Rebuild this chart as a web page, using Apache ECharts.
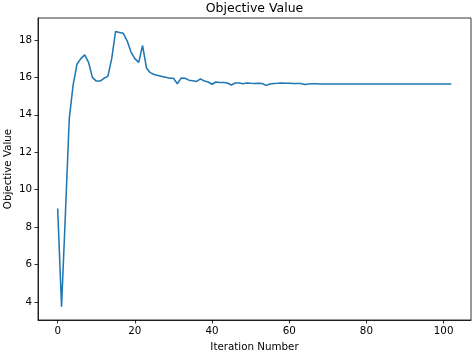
<!DOCTYPE html>
<html>
<head>
<meta charset="utf-8">
<script src="https://cdn.jsdelivr.net/npm/echarts@6/dist/echarts.min.js"></script>
<style>html,body{margin:0;padding:0;background:#fff}#c{width:474px;height:355px}</style>
</head>
<body>
<div id="c"></div>
<script>
var iterations = [];
var objectiveValues = [
  9.0, 3.75, 8.7, 13.8, 15.6, 16.7, 17.0, 17.2, 16.8, 16.0,
  15.8, 15.8, 15.95, 16.05, 17.0, 18.45, 18.4, 18.35, 17.95, 17.35,
  17.0, 16.8, 17.7, 16.5, 16.25, 16.15, 16.1, 16.05, 16.0, 15.95,
  15.95, 15.66, 15.96, 15.95, 15.85, 15.82, 15.78, 15.92, 15.8, 15.75,
  15.63, 15.75, 15.72, 15.72, 15.7, 15.59, 15.7, 15.7, 15.66, 15.7,
  15.68, 15.67, 15.68, 15.67, 15.57, 15.65, 15.67, 15.68, 15.7, 15.68,
  15.68, 15.67, 15.67, 15.67, 15.62, 15.65, 15.66, 15.66, 15.65, 15.65,
  15.65, 15.65, 15.65, 15.65, 15.65, 15.65, 15.65, 15.65, 15.65, 15.65,
  15.65, 15.65, 15.65, 15.65, 15.65, 15.65, 15.65, 15.65, 15.65, 15.65,
  15.65, 15.65, 15.65, 15.65, 15.65, 15.65, 15.65, 15.65, 15.65, 15.65,
  15.65, 15.65, 15.65
];
for (var i = 0; i < objectiveValues.length; i++) iterations.push(i);
var xTicks = [0, 20, 40, 60, 80, 100];
var yTicks = [4, 6, 8, 10, 12, 14, 16, 18];
var titleText = 'Objective Value';
var xName = 'Iteration Number';
var yName = 'Objective Value';

var data = iterations.map(function (x, i) { return [x, objectiveValues[i]]; });
var font = 'DejaVu Sans';
var chart = echarts.init(document.getElementById('c'), null, {renderer: 'canvas'});
chart.setOption({
  animation: false,
  backgroundColor: '#fff',
  title: {
    text: titleText, left: 254.5, top: 2, padding: 0, textAlign: 'center',
    textStyle: {fontFamily: font, fontSize: 12.5, fontWeight: 'normal', color: '#000'}
  },
  grid: {left: 38, right: 3, top: 18, bottom: 35, containLabel: false, outerBoundsMode: 'none',
    show: true, borderColor: '#000', borderWidth: 0.8, backgroundColor: 'transparent'},
  xAxis: {
    type: 'value', min: -5.1, max: 107.1,
    name: xName, nameLocation: 'middle', nameGap: 22, nameMoveOverlap: false,
    nameTextStyle: {fontFamily: font, fontSize: 10.3, color: '#000'},
    axisLine: {show: true, onZero: false, lineStyle: {color: '#000', width: 0.8}},
    axisTick: {show: true, inside: false, length: 3.5, lineStyle: {color: '#000', width: 0.8}, customValues: xTicks},
    axisLabel: {fontFamily: font, fontSize: 10.3, color: '#000', margin: 6, customValues: xTicks},
    splitLine: {show: false}
  },
  yAxis: {
    type: 'value', min: 3.04, max: 19.17,
    name: yName, nameLocation: 'middle', nameGap: 25, nameMoveOverlap: false,
    nameTextStyle: {fontFamily: font, fontSize: 10.3, color: '#000'},
    axisLine: {show: true, onZero: false, lineStyle: {color: '#000', width: 0.8}},
    axisTick: {show: true, inside: false, length: 3.5, lineStyle: {color: '#000', width: 0.8}, customValues: yTicks},
    axisLabel: {fontFamily: font, fontSize: 10.3, color: '#000', margin: 6, customValues: yTicks},
    splitLine: {show: false}
  },
  series: [{
    type: 'line', data: data, showSymbol: false, symbol: 'none',
    lineStyle: {color: '#1f77b4', width: 1.55},
    itemStyle: {color: '#1f77b4'}
  }]
});
</script>
</body>
</html>
